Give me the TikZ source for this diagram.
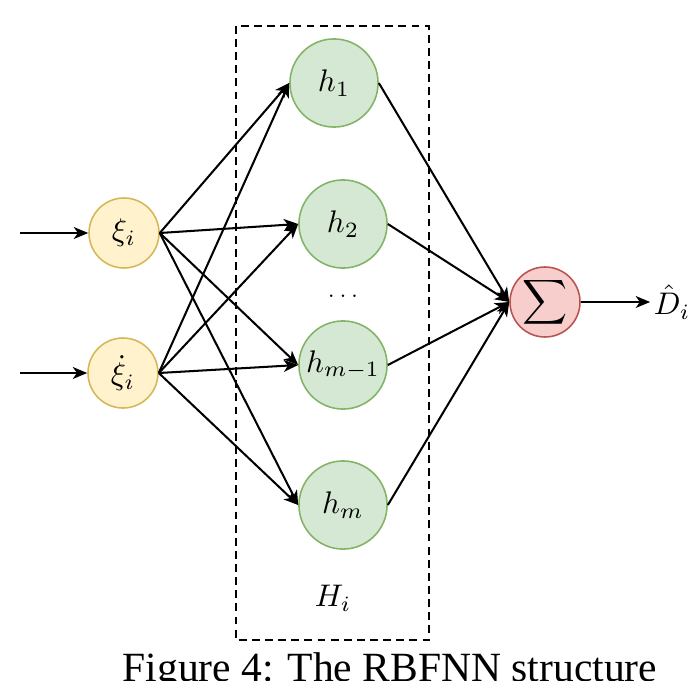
\documentclass[tikz,border=0pt]{standalone}
\usepackage{amsmath}
\usepackage{fontspec}
\newfontfamily\capfont{Liberation Serif}
\usepackage{tikz}
\usetikzlibrary{arrows.meta}
\definecolor{inpfill}{HTML}{FFF2CC}
\definecolor{inpline}{HTML}{D6B656}
\definecolor{hidfill}{HTML}{D5E8D4}
\definecolor{hidline}{HTML}{82B366}
\definecolor{sumfill}{HTML}{F8CECC}
\definecolor{sumline}{HTML}{B85450}

\begin{document}
\begin{tikzpicture}[x=0.32pt, y=-0.32pt,
  inp/.style={draw=inpline, fill=inpfill, circle, line width=0.5pt, minimum size=22.4pt, inner sep=0pt},
  hid/.style={draw=hidline, fill=hidfill, circle, line width=0.5pt, minimum size=28.2pt, inner sep=0pt},
  sumnode/.style={draw=sumline, fill=sumfill, circle, line width=0.5pt, minimum size=22.4pt, inner sep=0pt},
  link/.style={-{Stealth[length=4.6pt, width=3.8pt, inset=1.3pt]}, line width=0.65pt},
  hbox/.style={draw, line width=0.5pt, dash pattern=on 2.5pt off 1.7pt}]
\useasboundingbox (0,0) rectangle (695,680);
\clip (0,0) rectangle (695,680);
\draw[hbox] (236,26) rectangle (429,640);
\node[inp] (x1) at (124,233) {$\xi_i$};
\node[inp] (x2) at (123,373) {$\dot{\xi}_i$};
\node[hid] (h1) at (334,83) {$h_1$};
\node[hid] (h2) at (343,224) {$h_2$};
\node (dots) at (343,296) {\scriptsize$\ldots$};
\node[hid] (h3) at (343,365) {$h_{m-1}$};
\node[hid] (h4) at (343,505) {$h_m$};
\node (H) at (333,598) {$H_i$};
\node[sumnode] (sum) at (545,302) {$\displaystyle\sum$};
\node[inner sep=1pt] (Dhat) at (672,302) {$\hat{D}_i$};
\coordinate (in1) at (20,233);
\coordinate (in2) at (20,373);
\draw[link] (in1) -- (x1);
\draw[link] (in2) -- (x2);
\draw[link] (x1.east) -- (h1.west);
\draw[link] (x1.east) -- (h2.west);
\draw[link] (x1.east) -- (h3.west);
\draw[link] (x1.east) -- (h4.west);
\draw[link] (x2.east) -- (h1.west);
\draw[link] (x2.east) -- (h2.west);
\draw[link] (x2.east) -- (h3.west);
\draw[link] (x2.east) -- (h4.west);
\draw[link] (h1.east) -- (sum.west);
\draw[link] (h2.east) -- (sum.west);
\draw[link] (h3.east) -- (sum.west);
\draw[link] (h4.east) -- (sum.west);
\draw[link] (sum) -- (Dhat);
\node[anchor=base west, inner sep=0pt] (cap) at (122,681) {\capfont\fontsize{13.3}{16}\selectfont Figure 4: The RBFNN structure};
\end{tikzpicture}
\end{document}
